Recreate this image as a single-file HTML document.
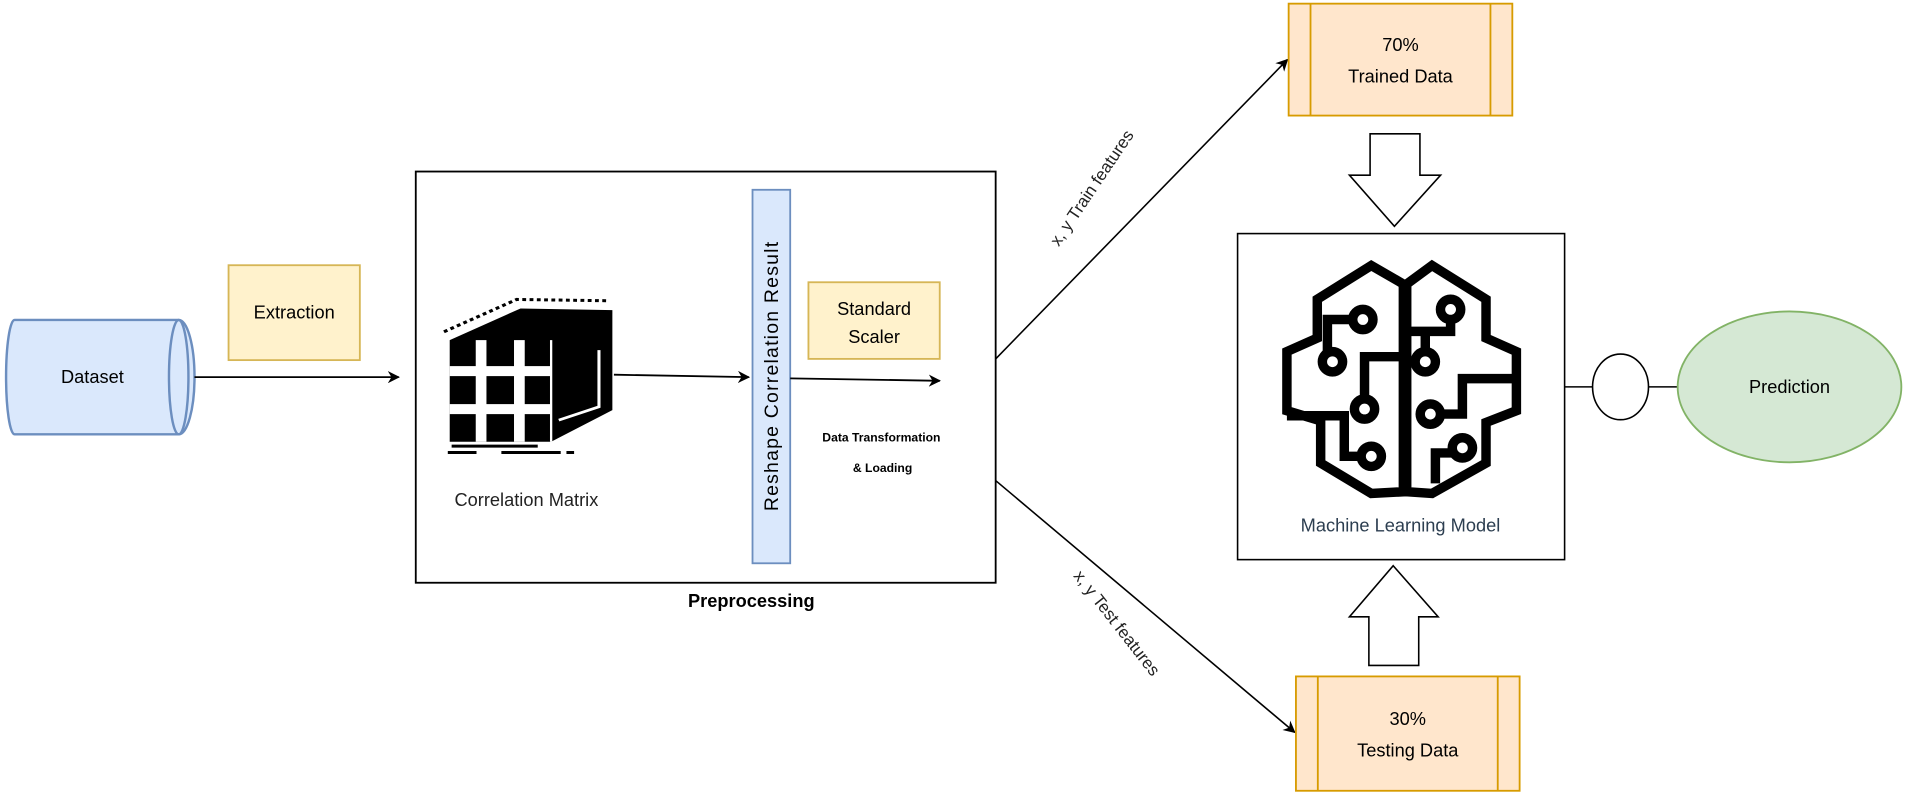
<!DOCTYPE html>
<html><head><meta charset="utf-8"><style>
html,body{margin:0;padding:0;background:#fff;}
svg{display:block;}
text{font-family:"Liberation Sans",Arial,sans-serif;}
</style></head><body>
<svg width="1905" height="792" viewBox="0 0 1567 651" preserveAspectRatio="none" xmlns="http://www.w3.org/2000/svg">
<defs>
<marker id="ar" markerWidth="10" markerHeight="10" refX="9" refY="5" orient="auto" markerUnits="userSpaceOnUse">
<path d="M0,0 L10,5 L0,10 L3,5 Z" fill="#000"/>
</marker>
</defs>
<rect width="1567" height="651" fill="#fff"/>

<path d="M12,263 L147,263 A13,47 0 0 1 147,357 L12,357 A7,47 0 0 1 12,263 Z" fill="#dae8fc" stroke="#6c8ebf" stroke-width="2"/>
<ellipse cx="147" cy="310" rx="8" ry="47" fill="none" stroke="#6c8ebf" stroke-width="2"/>
<text x="76" y="315" font-size="15" text-anchor="middle">Dataset</text>
<line x1="160" y1="310" x2="328" y2="310" stroke="#000" stroke-width="1.5" marker-end="url(#ar)"/>

<rect x="188" y="218" width="108" height="78" fill="#fff2cc" stroke="#d6b656" stroke-width="1.5"/>
<text x="242" y="262" font-size="15" text-anchor="middle">Extraction</text>

<rect x="342" y="141" width="477" height="338" fill="#fff" stroke="#000" stroke-width="1.5"/>
<text x="618" y="499" font-size="15" text-anchor="middle" font-weight="bold">Preprocessing</text>

<g transform="translate(329,131.6) scale(0.3148,0.274)">
<path d="M130,540 L315,445 L555,450 L555,750 L395,845 L130,845 Z" fill="#000"/>
<g fill="#fff">
<rect x="198" y="540" width="28" height="305"/>
<rect x="298" y="540" width="28" height="305"/>
<rect x="130" y="618" width="265" height="30"/>
<rect x="130" y="732" width="265" height="30"/>
<rect x="392" y="540" width="6" height="305"/>
</g>
<path d="M520,570 L520,740 L415,780" fill="none" stroke="#fff" stroke-width="8"/>
<path d="M115,515 L305,418 L545,422" fill="none" stroke="#000" stroke-width="9" stroke-dasharray="10,9"/>
<path d="M135,858 L360,858 M125,877 L200,877 M265,877 L420,877 M435,877 L455,877" stroke="#000" stroke-width="9"/>
</g>
<text x="433" y="416" font-size="15" text-anchor="middle" fill="#222">Correlation Matrix</text>
<line x1="505" y1="308" x2="616" y2="310" stroke="#000" stroke-width="1.5" marker-end="url(#ar)"/>

<rect x="619" y="156" width="31" height="307" fill="#dae8fc" stroke="#6c8ebf" stroke-width="1.5"/>
<text transform="translate(640,309) rotate(-90)" font-size="16" text-anchor="middle" letter-spacing="1">Reshape Correlation Result</text>

<rect x="665" y="232" width="108" height="63" fill="#fff2cc" stroke="#d6b656" stroke-width="1.5"/>
<text x="719" y="259" font-size="15" text-anchor="middle">Standard</text>
<text x="719" y="282" font-size="15" text-anchor="middle">Scaler</text>
<line x1="650" y1="311" x2="773" y2="313" stroke="#000" stroke-width="1.5" marker-end="url(#ar)"/>
<text x="725" y="363" font-size="10" font-weight="bold" text-anchor="middle">Data Transformation</text>
<text x="726" y="388" font-size="10" font-weight="bold" text-anchor="middle">&amp; Loading</text>

<line x1="819" y1="295" x2="1059" y2="49" stroke="#000" stroke-width="1.3" marker-end="url(#ar)"/>
<line x1="819" y1="395" x2="1065" y2="602" stroke="#000" stroke-width="1.3" marker-end="url(#ar)"/>
<text transform="translate(902,157) rotate(-56)" font-size="14" text-anchor="middle" fill="#222">x, y Train features</text>
<text transform="translate(915,515) rotate(52)" font-size="14" text-anchor="middle" fill="#222">x, y Test features</text>

<rect x="1060" y="3" width="184" height="92" fill="#ffe6cc" stroke="#d79b00" stroke-width="1.5"/>
<line x1="1078" y1="3" x2="1078" y2="95" stroke="#d79b00" stroke-width="1.5"/>
<line x1="1226" y1="3" x2="1226" y2="95" stroke="#d79b00" stroke-width="1.5"/>
<text x="1152" y="42" font-size="15" text-anchor="middle">70%</text>
<text x="1152" y="68" font-size="15" text-anchor="middle">Trained Data</text>

<rect x="1066" y="556" width="184" height="94" fill="#ffe6cc" stroke="#d79b00" stroke-width="1.5"/>
<line x1="1084" y1="556" x2="1084" y2="650" stroke="#d79b00" stroke-width="1.5"/>
<line x1="1232" y1="556" x2="1232" y2="650" stroke="#d79b00" stroke-width="1.5"/>
<text x="1158" y="596" font-size="15" text-anchor="middle">30%</text>
<text x="1158" y="622" font-size="15" text-anchor="middle">Testing Data</text>

<path d="M1127,110 L1168,110 L1168,144 L1185,144 L1147,186 L1110,144 L1127,144 Z" fill="#fff" stroke="#000" stroke-width="1.3"/>
<path d="M1146,465 L1183,507 L1167,507 L1167,547 L1126,547 L1126,507 L1110,507 Z" fill="#fff" stroke="#000" stroke-width="1.3"/>

<rect x="1018" y="192" width="269" height="268" fill="#fff" stroke="#000" stroke-width="1.3"/>
<g transform="translate(1044.7,197.4) scale(0.2776)" fill="none" stroke="#000" stroke-width="28" stroke-linejoin="miter">
<path d="M395,745 L395,130 L300,75 L140,175 L140,290 L50,330 L50,505 L150,535 L150,660 L300,750 Z"/>
<path d="M405,745 L405,130 L480,75 L640,175 L640,290 L730,330 L730,505 L640,540 L640,660 L480,750 Z"/>
<circle cx="275" cy="235" r="30"/>
<circle cx="185" cy="360" r="30"/>
<circle cx="280" cy="500" r="30"/>
<circle cx="300" cy="640" r="30"/>
<circle cx="535" cy="205" r="30"/>
<circle cx="460" cy="360" r="30"/>
<circle cx="475" cy="515" r="30"/>
<circle cx="570" cy="615" r="30"/>
<path d="M245,235 L170,235 L170,330"/>
<path d="M280,470 L280,345 L395,345"/>
<path d="M270,640 L220,640 L220,520 L50,520"/>
<path d="M535,235 L535,270 L405,270"/>
<path d="M460,330 L460,270"/>
<path d="M505,515 L570,515 L570,410 L730,410"/>
<path d="M545,630 L490,630 L490,720"/>
</g>
<text x="1152" y="437" font-size="15" text-anchor="middle" fill="#2c3e50">Machine Learning Model</text>

<line x1="1287" y1="318" x2="1380" y2="318" stroke="#000" stroke-width="1.3"/>
<ellipse cx="1333" cy="318" rx="23" ry="27" fill="#fff" stroke="#000" stroke-width="1.3"/>
<ellipse cx="1472" cy="318" rx="92" ry="62" fill="#d5e8d4" stroke="#82b366" stroke-width="1.5"/>
<text x="1472" y="323" font-size="15" text-anchor="middle">Prediction</text>
</svg>
</body></html>
